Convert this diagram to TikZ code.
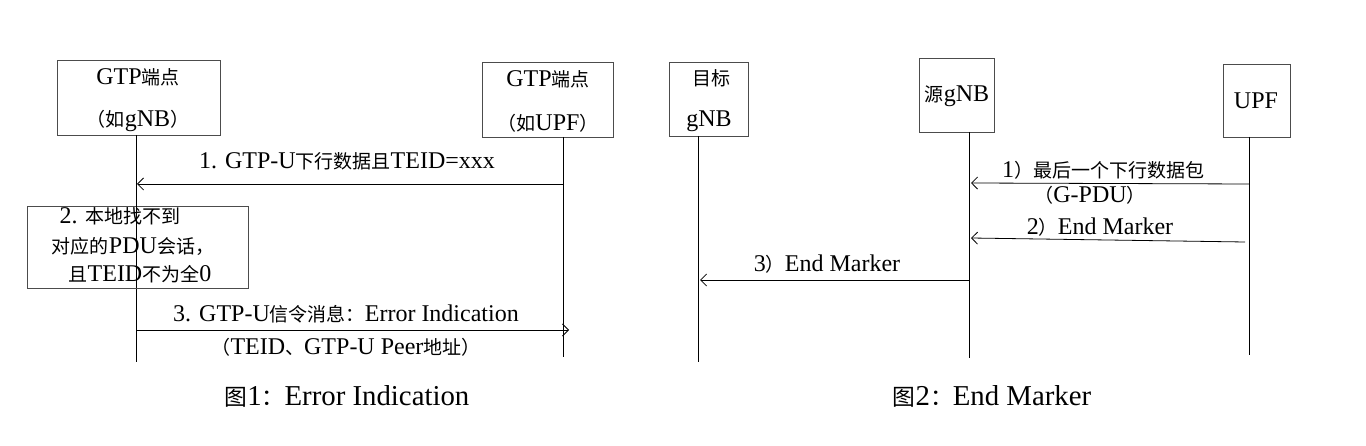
\documentclass[tikz,border=0pt]{standalone}
\usepackage{fontspec}
\setmainfont{Liberation Serif}[Scale=1.2]
\newfontfamily\cjk{Noto Sans CJK SC}[Scale=0.95]
\newcommand{\zh}[1]{{\cjk #1}}
\usetikzlibrary{arrows.meta}
\begin{document}
\begin{tikzpicture}[x=1pt,y=-1pt,
  box/.style={draw=black!70,line width=0.8pt,inner sep=0pt},
  life/.style={line width=0.8pt},
  msg/.style={line width=0.8pt,-{Straight Barb[length=6pt,width=12pt]}},
  lbl/.style={font=\fontsize{20}{22}\selectfont,inner sep=0pt},
  captxt/.style={font=\fontsize{24}{26}\selectfont,inner sep=0pt}]
\useasboundingbox (0,0) rectangle (1366,446);
% left
\draw[box] (57,60) rectangle (220,135);
\node[lbl] (t1) at (138,77) {GTP\zh{端点}};
\node[lbl] (t2) at (138,121) {\zh{（如}gNB\zh{）}};
\draw[box] (482,62) rectangle (613,137);
\node[lbl] (t3) at (548,79) {GTP\zh{端点}};
\node[lbl] (t4) at (548,123) {\zh{（如}UPF\zh{）}};
\coordinate (a1) at (136,135); \coordinate (a2) at (136,362);
\coordinate (b1) at (563,137); \coordinate (b2) at (563,357);
\draw[life] (a1) -- (a2); \draw[life] (b1) -- (b2);
\coordinate (m1s) at (563,184); \coordinate (m1e) at (137,184);
\draw[msg] (m1s) -- (m1e);
\node[lbl] (l1) at (347,161) {1. GTP-U\zh{下行数据且}TEID=xxx};
\draw[box,fill=white] (27,206) rectangle (248,288);
\node[lbl] (s1) at (120,216) {2. \zh{本地找不到}};
\node[lbl] (s2) at (133,246) {\zh{对应的}PDU\zh{会话，}};
\node[lbl] (s3) at (140,274) {\zh{且}TEID\zh{不为全}0};
\draw[life] (136,206) -- (136,288);
\coordinate (m3s) at (136,330); \coordinate (m3e) at (569,330);
\draw[msg] (m3s) -- (m3e);
\node[lbl] (l3) at (346,314) {3. GTP-U\zh{信令消息：}Error Indication};
\node[lbl] (l3b) at (346,347) {\zh{（}TEID\zh{、}GTP-U Peer\zh{地址）}};
\node[captxt] (c1) at (347,396) {\zh{图}1\zh{：}Error Indication};
% right
\draw[box] (669,62) rectangle (748,136);
\node[lbl] (r1) at (711,78) {\zh{目标}};
\node[lbl] (r2) at (709,121) {gNB};
\draw[box] (919,58) rectangle (994,132);
\node[lbl] (r3) at (957,96) {\zh{源}gNB};
\draw[box] (1223,64) rectangle (1290,137);
\node[lbl] (r4) at (1256,101) {UPF};
\coordinate (g1) at (698,136); \coordinate (g2) at (698,362);
\coordinate (s1a) at (969,132); \coordinate (s2a) at (969,358);
\coordinate (u1) at (1249,137); \coordinate (u2) at (1249,355);
\draw[life] (g1) -- (g2); \draw[life] (s1a) -- (s2a); \draw[life] (u1) -- (u2);
\coordinate (n1s) at (1249,184); \coordinate (n1e) at (971,183);
\draw[msg] (n1s) -- (n1e);
\node[lbl] (k1) at (1103,170) {1\zh{）最后一个下行数据包}};
\node[lbl] (k1b) at (1090,195) {\zh{（}G-PDU\zh{）}};
\coordinate (n2s) at (1245,242) ; \coordinate (n2e) at (971,238);
\draw[msg] (n2s) -- (n2e);
\node[lbl] (k2) at (1100,227) {2\zh{）}End Marker};
\coordinate (n3s) at (969,280); \coordinate (n3e) at (700,280);
\draw[msg] (n3s) -- (n3e);
\node[lbl] (k3) at (827,264) {3\zh{）}End Marker};
\node[captxt] (c2) at (992,396) {\zh{图}2\zh{：}End Marker};
\end{tikzpicture}
\end{document}
